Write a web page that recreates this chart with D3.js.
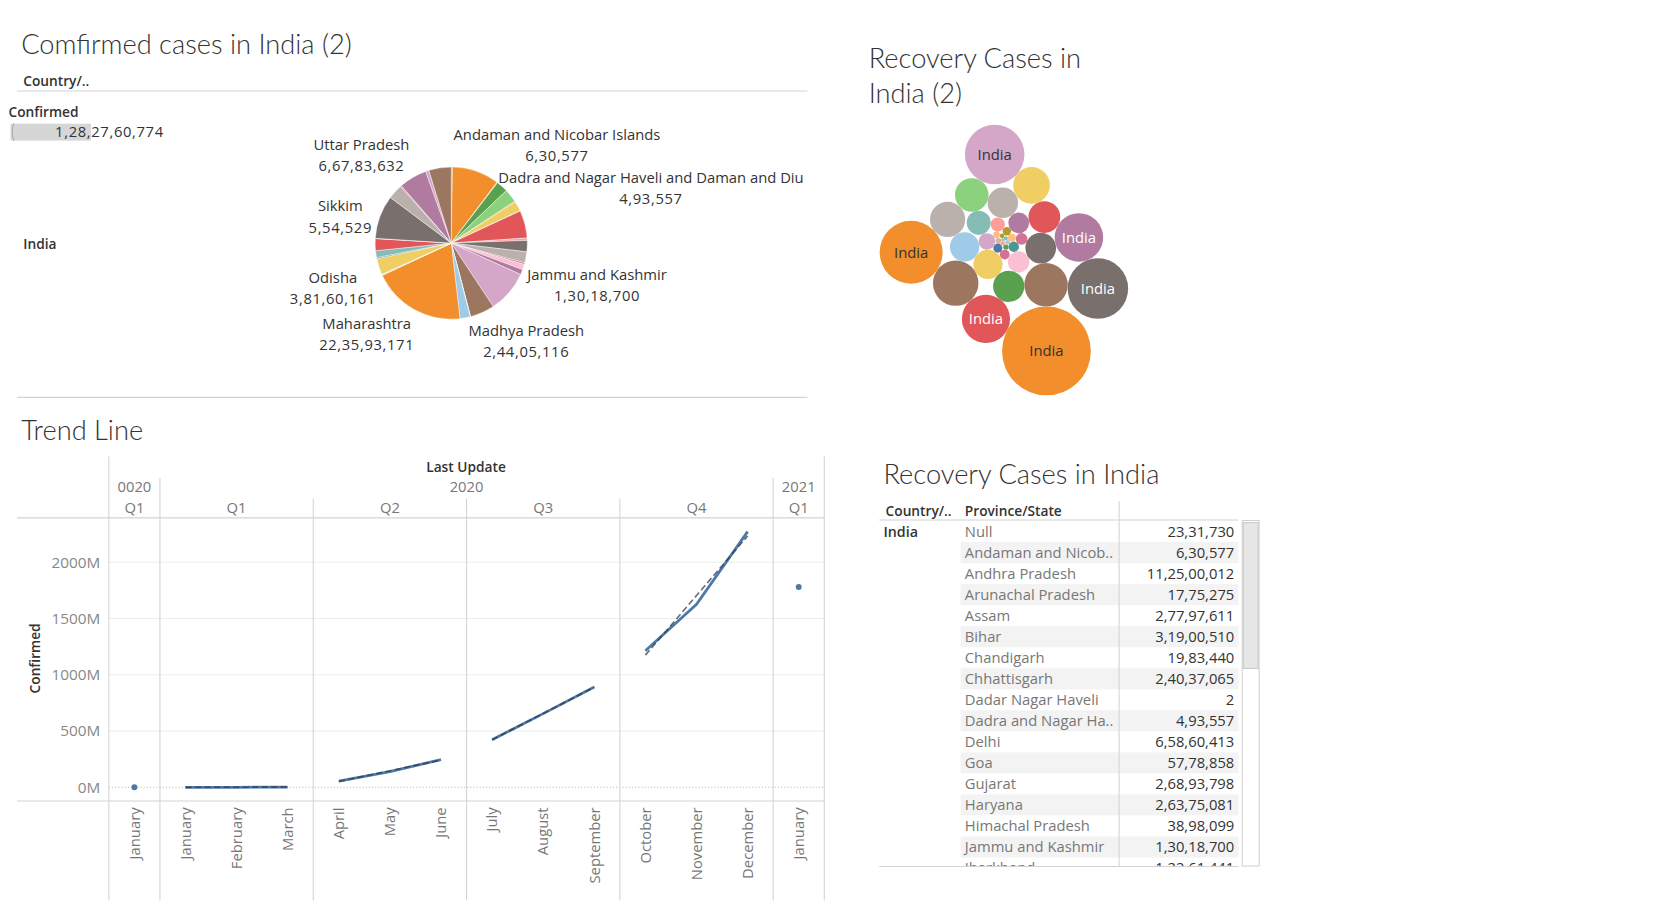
<!DOCTYPE html>
<html lang="en">
<head>
<meta charset="UTF-8">
<title>India confirmed and recovery cases</title>
<script src="https://d3js.org/d3.v7.min.js"></script>
<style>
  body { margin: 0; background: #fff; }
  svg { display: block; font-family: "Open Sans", sans-serif; }
  .title { font-family: Lato, sans-serif; font-size: 25.8px; font-weight: 300; fill: #333; }
  .hdr { font-size: 13px; font-weight: 600; fill: #333; }
  .lbl { font-size: 14px; fill: #333; }
  .num { letter-spacing: 0.6px; }
  .muted { font-size: 14px; fill: #777; }
  .rule { stroke: #d3d3d3; stroke-width: 1; fill: none; }
</style>
</head>
<body>
<svg id="dash" width="1657" height="911" viewBox="0 0 1568 862"></svg>
<script>
// ---- data ----
const country = "India";
const confirmedTotal = 1282760774;

const states = ["Null", "Andaman and Nicobar Islands", "Andhra Pradesh", "Arunachal Pradesh", "Assam", "Bihar",
  "Chandigarh", "Chhattisgarh", "Dadar Nagar Haveli", "Dadra and Nagar Haveli and Daman and Diu", "Delhi", "Goa",
  "Gujarat", "Haryana", "Himachal Pradesh", "Jammu and Kashmir", "Jharkhand", "Karnataka", "Kerala", "Ladakh",
  "Lakshadweep", "Madhya Pradesh", "Maharashtra", "Manipur", "Meghalaya", "Mizoram", "Nagaland", "Odisha",
  "Puducherry", "Punjab", "Rajasthan", "Sikkim", "Tamil Nadu", "Telangana", "Tripura", "Unknown",
  "Uttar Pradesh", "Uttarakhand", "West Bengal"];
const confirmed = [2331730, 630577, 112500012, 1775275, 27797611, 31900510,
  1983440, 24037065, 2, 493557, 65860413, 5778858,
  26893798, 26375081, 3898099, 13018700, 12261441, 100500000, 58600000, 910000,
  150, 24405116, 223593171, 1250000, 820000, 260000, 640000, 38160161,
  3100000, 16400000, 28600000, 554529, 104000000, 35200000, 2750000, 95000,
  66783632, 7800000, 53500000];
const pieLabelStates = ["Andaman and Nicobar Islands", "Dadra and Nagar Haveli and Daman and Diu",
  "Jammu and Kashmir", "Madhya Pradesh", "Maharashtra", "Odisha", "Sikkim", "Uttar Pradesh"];

const quarterYears = ["0020", "2020", "2020", "2020", "2020", "2021"];
const quarterNames = ["Q1", "Q1", "Q2", "Q3", "Q4", "Q1"];
const quarterMonths = [["January"], ["January", "February", "March"], ["April", "May", "June"],
  ["July", "August", "September"], ["October", "November", "December"], ["January"]];
const monthlyConfirmedM = [[0.2], [0.1, 0.4, 2.5], [55, 140, 246], [423, 655, 891], [1213, 1627, 2272], [1780]];
const yTicks = [0, 500, 1000, 1500, 2000];

const tableau20 = ["#4e79a7", "#a0cbe8", "#f28e2b", "#ffbe7d", "#59a14f", "#8cd17d", "#b6992d", "#f1ce63",
  "#499894", "#86bcb6", "#e15759", "#ff9d9a", "#79706e", "#bab0ac", "#d37295", "#fabfd2", "#b07aa1",
  "#d4a6c8", "#9d7660", "#d7b5a6"];

// indian digit grouping: 1,28,27,60,774
function inr(n) {
  const s = String(Math.round(n));
  if (s.length <= 3) return s;
  return s.slice(0, -3).replace(/\B(?=(\d{2})+(?!\d))/g, ",") + "," + s.slice(-3);
}

const svg = d3.select("#dash");

function hline(x1, x2, y) {
  svg.append("line").attr("class", "rule").attr("x1", x1).attr("x2", x2).attr("y1", y).attr("y2", y);
}
function vline(x, y1, y2) {
  svg.append("line").attr("class", "rule").attr("x1", x).attr("x2", x).attr("y1", y1).attr("y2", y2);
}

const stateData = states.map((s, i) => ({ state: s, value: confirmed[i], color: tableau20[i % 20] }));

// ---- Confirmed cases: text table + pie ----
svg.append("text").attr("class", "title").attr("x", 20).attr("y", 51).text("Comfirmed cases in India (2)");
svg.append("text").attr("class", "hdr").attr("x", 22).attr("y", 81).text("Country/..");
hline(16, 764, 86);
svg.append("text").attr("class", "hdr").attr("x", 8).attr("y", 111).text("Confirmed");

const barX = d3.scaleLinear().domain([0, confirmedTotal]).range([0, 76]);
svg.append("rect").attr("x", 10).attr("y", 117).attr("width", barX(confirmedTotal)).attr("height", 16)
  .attr("fill", "#d6d6d6");
svg.append("path").attr("d", "M13,117 Q10,125 13,133").attr("fill", "none").attr("stroke", "#aaa");
svg.append("text").attr("class", "lbl num").attr("x", 155).attr("y", 130).attr("text-anchor", "end")
  .text(inr(confirmedTotal));
svg.append("text").attr("class", "hdr").attr("x", 22).attr("y", 236).text(country);
hline(16, 764, 376);

const pieR = 72;
const pie = d3.pie().sort(null).value(d => d.value);
const arc = d3.arc().innerRadius(0).outerRadius(pieR);
const pieG = svg.append("g").attr("transform", "translate(427,230)");
pieG.selectAll("path").data(pie(stateData)).join("path")
  .attr("d", arc)
  .attr("fill", d => d.data.color)
  .attr("stroke", "#fff").attr("stroke-width", 0.4);

// label placement relative to pie centre, as Tableau laid them out
const labelSpots = {
  "Andaman and Nicobar Islands": [100, -98],
  "Dadra and Nagar Haveli and Daman and Diu": [189, -57],
  "Jammu and Kashmir": [138, 35],
  "Madhya Pradesh": [71, 88],
  "Maharashtra": [-80, 81],
  "Odisha": [-112, 38],
  "Sikkim": [-105, -30],
  "Uttar Pradesh": [-85, -88]
};
pieLabelStates.forEach(s => {
  const [dx, dy] = labelSpots[s];
  const t = pieG.append("text").attr("class", "lbl").attr("text-anchor", "middle").attr("y", dy);
  t.append("tspan").attr("x", dx).text(s);
  t.append("tspan").attr("class", "num").attr("x", dx).attr("dy", 20).text(inr(confirmed[states.indexOf(s)]));
});

// ---- Recovery cases bubbles ----
const t2 = svg.append("text").attr("class", "title");
t2.append("tspan").attr("x", 822).attr("y", 64).text("Recovery Cases in");
t2.append("tspan").attr("x", 822).attr("y", 97).text("India (2)");

const rScale = d3.scaleSqrt().domain([0, d3.max(confirmed)]).range([0, 42]);
// small ones first so they end up in the middle, big ones round the rim
const bubbles = stateData.filter(d => d.value > 0)
  .map(d => ({ ...d, r: rScale(d.value) }))
  .sort((a, b) => a.r - b.r);
d3.packSiblings(bubbles);
const biggest = bubbles[bubbles.length - 1];
const cx0 = d3.mean(bubbles, c => c.x), cy0 = d3.mean(bubbles, c => c.y);
const rot = 69 * Math.PI / 180 - Math.atan2(biggest.y - cy0, biggest.x - cx0);
bubbles.forEach(c => {
  const x = c.x, y = c.y;
  c.x = x * Math.cos(rot) - y * Math.sin(rot);
  c.y = x * Math.sin(rot) + y * Math.cos(rot);
});
const bx = [d3.min(bubbles, c => c.x - c.r), d3.max(bubbles, c => c.x + c.r)];
const by = [d3.min(bubbles, c => c.y - c.r), d3.max(bubbles, c => c.y + c.r)];
const bubbleG = svg.append("g")
  .attr("transform", `translate(${950 - (bx[0] + bx[1]) / 2},${246 - (by[0] + by[1]) / 2})`);
bubbleG.selectAll("circle").data(bubbles).join("circle")
  .attr("cx", d => d.x).attr("cy", d => d.y).attr("r", d => d.r)
  .attr("fill", d => d.color);
bubbleG.selectAll("text").data(bubbles.filter(d => d.value > 6e7)).join("text")
  .attr("x", d => d.x).attr("y", d => d.y + 5)
  .attr("text-anchor", "middle")
  .style("font-size", "14px")
  .attr("fill", d => d3.lab(d.color).l > 62 ? "#333" : "#fff")
  .text(country);

// ---- Trend line ----
svg.append("text").attr("class", "title").attr("x", 20).attr("y", 416).text("Trend Line");

let col = 0;
const panes = quarterNames.map((q, qi) => ({
  year: quarterYears[qi], q,
  pts: quarterMonths[qi].map((m, mi) => ({ month: m, value: monthlyConfirmedM[qi][mi], col: col++ }))
}));
const x = d3.scaleBand().domain(d3.range(col)).range([103, 780]);
const y = d3.scaleLinear().domain([0, 2000]).range([745, 532]);
const paneX0 = p => x(p.pts[0].col);
const paneX1 = p => x(p.pts[p.pts.length - 1].col) + x.bandwidth();

// grid
yTicks.filter(v => v > 0).forEach(v => {
  svg.append("line").attr("x1", 103).attr("x2", 780).attr("y1", y(v)).attr("y2", y(v))
    .attr("stroke", "#ececec");
});
svg.append("line").attr("x1", 103).attr("x2", 780).attr("y1", y(0)).attr("y2", y(0))
  .attr("stroke", "#b5b5b5").attr("stroke-dasharray", "1,2");

// headers
svg.append("text").attr("class", "hdr").attr("x", 441).attr("y", 447).attr("text-anchor", "middle")
  .text("Last Update");
const years = [];
panes.forEach(p => {
  const last = years[years.length - 1];
  if (last && last.year === p.year) last.x1 = paneX1(p);
  else years.push({ year: p.year, x0: paneX0(p), x1: paneX1(p) });
});
years.forEach(yr => {
  svg.append("text").attr("class", "muted").attr("x", (yr.x0 + yr.x1) / 2).attr("y", 466)
    .attr("text-anchor", "middle").text(yr.year);
});
panes.forEach(p => {
  svg.append("text").attr("class", "muted").attr("x", (paneX0(p) + paneX1(p)) / 2).attr("y", 485)
    .attr("text-anchor", "middle").text(p.q);
});
vline(103, 432, 852);
vline(780, 432, 852);
panes.forEach((p, i) => {
  if (i === 0) return;
  const yearStart = years.some(yr => yr.x0 === paneX0(p));
  vline(paneX0(p), yearStart ? 452 : 472, 852);
});
hline(16, 780, 490);
hline(16, 780, 758);

// y axis
const yAxis = svg.append("g").attr("transform", "translate(103,0)")
  .call(d3.axisLeft(y).tickValues(yTicks).tickFormat(d => d + "M").tickSize(0).tickPadding(8));
yAxis.select(".domain").remove();
yAxis.selectAll("text").attr("fill", "#888").style("font-size", "14.5px").style("font-family", "Open Sans");
svg.append("text").attr("class", "hdr").attr("transform", "translate(38,623) rotate(-90)")
  .attr("text-anchor", "middle").text("Confirmed");

// month labels
panes.forEach(p => p.pts.forEach(pt => {
  const cx = x(pt.col) + x.bandwidth() / 2;
  svg.append("text").attr("class", "muted")
    .attr("transform", `translate(${cx + 5},764) rotate(-90)`)
    .attr("text-anchor", "end").text(pt.month);
}));

// lines, dots and per-pane linear trend
const line = d3.line().x(d => x(d.col) + x.bandwidth() / 2).y(d => y(d.value));
panes.forEach(p => {
  if (p.pts.length === 1) {
    svg.append("circle").attr("cx", x(p.pts[0].col) + x.bandwidth() / 2).attr("cy", y(p.pts[0].value))
      .attr("r", 2.8).attr("fill", "#4e79a7");
    return;
  }
  svg.append("path").datum(p.pts).attr("d", line)
    .attr("fill", "none").attr("stroke", "#4e79a7").attr("stroke-width", 2.6);
  const mx = d3.mean(p.pts, d => d.col), my = d3.mean(p.pts, d => d.value);
  const slope = d3.sum(p.pts, d => (d.col - mx) * (d.value - my)) / d3.sum(p.pts, d => (d.col - mx) ** 2);
  const fit = p.pts.map(d => ({ col: d.col, value: my + slope * (d.col - mx) }));
  svg.append("path").datum(fit).attr("d", line)
    .attr("fill", "none").attr("stroke", "#2f3b4a").attr("stroke-opacity", 0.75)
    .attr("stroke-width", 1.5).attr("stroke-dasharray", "6,3");
});

// ---- Recovery table ----
svg.append("text").attr("class", "title").attr("x", 836).attr("y", 458).text("Recovery Cases in India");
svg.append("text").attr("class", "hdr").attr("x", 838).attr("y", 488).text("Country/..");
svg.append("text").attr("class", "hdr").attr("x", 913).attr("y", 488).text("Province/State");

const rowH = 19.9, rowTop = 493, tableBottom = 820;
svg.append("clipPath").attr("id", "rows").append("rect")
  .attr("x", 830).attr("y", rowTop - 1).attr("width", 345).attr("height", tableBottom - rowTop + 1);
const rows = svg.append("g").attr("clip-path", "url(#rows)");
stateData.forEach((d, i) => {
  const top = rowTop + i * rowH;
  if (top >= tableBottom) return; // rest sits below the scroll window
  if (i % 2 === 1) rows.append("rect").attr("x", 909).attr("y", top).attr("width", 263).attr("height", rowH)
    .attr("fill", "#f3f3f3");
  const t = rows.append("text").attr("class", "muted").attr("x", 913).attr("y", top + 15).text(d.state);
  let s = d.state;
  while (t.node().getComputedTextLength() > 146 && s.length > 1) {
    s = s.slice(0, -1);
    t.text(s.trimEnd() + "..");
  }
  rows.append("text").attr("class", "lbl").attr("x", 1168).attr("y", top + 15).attr("text-anchor", "end")
    .text(inr(d.value));
});
svg.append("text").attr("class", "hdr").attr("x", 836).attr("y", rowTop + 15).style("font-size", "13.5px")
  .text(country);
vline(1059, 474, tableBottom);
hline(832, 1172, 492);
hline(832, 1172, tableBottom);
svg.append("rect").attr("x", 1175.5).attr("y", 492.5).attr("width", 16).attr("height", tableBottom - 493)
  .attr("fill", "#fff").attr("stroke", "#d0d0d0");
svg.append("rect").attr("x", 1176.5).attr("y", 494.5).attr("width", 14).attr("height", 138)
  .attr("fill", "#e6e6e6").attr("stroke", "#c8c8c8");
</script>
</body>
</html>
